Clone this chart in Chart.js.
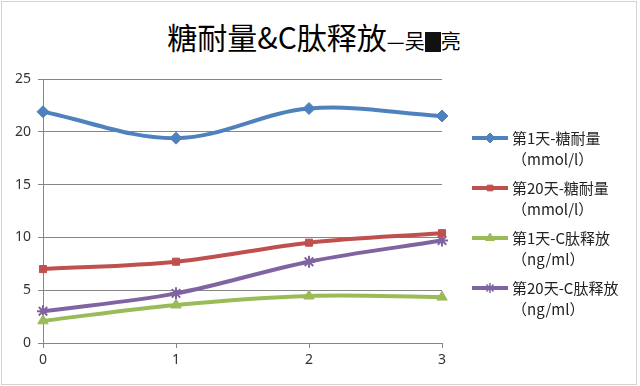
<!DOCTYPE html>
<html>
<head>
<meta charset="utf-8">
<script src="https://cdn.jsdelivr.net/npm/chart.js@4"></script>
<style>
  body { margin: 0; background: #fff; }
  #wrap { position: relative; width: 640px; height: 386px; }
  #frame { position: absolute; left: 1px; top: 1px; width: 634px; height: 382px; border: 1px solid #d4d4d4; }
  #title { position: absolute; left: -6px; top: 14px; width: 640px; text-align: center;
    font-family: "Noto Sans CJK SC", sans-serif; color: #000; white-space: nowrap; }
  #title .big { font-size: 30px; }
  #title .small { font-size: 20px; }
  #title .blk { display: inline-block; width: 16px; height: 20px; background: #111; vertical-align: -3px; }
  canvas { position: absolute; left: 0; top: 0; }
</style>
</head>
<body>
<div id="wrap">
  <div id="frame"></div>
  <div id="title"><span class="big">糖耐量&amp;C肽释放</span><span class="small">—吴<span class="blk"></span>亮</span></div>
  <canvas id="chart" width="640" height="386"></canvas>
</div>
<script>
const days = ["0", "1", "2", "3"];
const names = [
  ["第1天-糖耐量", "（mmol/l）"],
  ["第20天-糖耐量", "（mmol/l）"],
  ["第1天-C肽释放", "（ng/ml）"],
  ["第20天-C肽释放", "（ng/ml）"],
];
const glucoseDay1 = [21.9, 19.4, 22.2, 21.5];
const glucoseDay20 = [7.0, 7.7, 9.5, 10.4];
const cpepDay1 = [2.1, 3.6, 4.45, 4.35];
const cpepDay20 = [3.0, 4.7, 7.7, 9.7];
const yTicks = [0, 5, 10, 15, 20, 25];

const colors = ["#4F81BD", "#C0504D", "#9BBB59", "#8064A2"];
const markers = ["rectRot", "rect", "triangle", "star"];
const sizes = [6, 5, 6, 6];
const series = [glucoseDay1, glucoseDay20, cpepDay1, cpepDay20];

// hand-drawn legend on the right, two lines per entry
const sideLegend = {
  id: "sideLegend",
  afterDraw(c) {
    const ctx = c.ctx;
    ctx.save();
    ctx.font = '15px "Noto Sans CJK SC", sans-serif';
    ctx.textBaseline = "middle";
    names.forEach((nm, i) => {
      const y = 138 + i * 50;
      ctx.strokeStyle = colors[i];
      ctx.lineWidth = 4;
      ctx.beginPath();
      ctx.moveTo(472, y);
      ctx.lineTo(508, y);
      ctx.stroke();
      ctx.fillStyle = colors[i];
      ctx.lineWidth = i === 3 ? 1.5 : 1;
      Chart.helpers.drawPoint(ctx, { pointStyle: markers[i], radius: sizes[i] - 1, borderWidth: ctx.lineWidth }, 490, y);
      ctx.fillStyle = "#222";
      ctx.fillText(nm[0], 512, y);
      ctx.fillText(nm[1], 512, y + 21);
    });
    ctx.restore();
  }
};

new Chart(document.getElementById("chart"), {
  type: "line",
  data: {
    labels: days,
    datasets: series.map((d, i) => ({
      label: names[i].join(""),
      data: d,
      borderColor: colors[i],
      backgroundColor: colors[i],
      pointBackgroundColor: colors[i],
      pointBorderColor: colors[i],
      pointStyle: markers[i],
      pointRadius: sizes[i],
      pointBorderWidth: i === 3 ? 2 : 1,
      borderWidth: 4,
      tension: 0.35,
    })),
  },
  options: {
    responsive: false,
    animation: false,
    layout: { padding: { top: 79, right: 198, left: 0, bottom: 0 } },
    plugins: { legend: { display: false }, tooltip: { enabled: false } },
    scales: {
      x: {
        afterFit(s) { s.height = 43; },
        grid: { drawOnChartArea: false, color: "#868686", tickLength: 5 },
        border: { color: "#868686", width: 1 },
        ticks: { color: "#333", font: { size: 14, family: "Noto Sans" }, padding: 4 },
      },
      y: {
        min: 0, max: 25,
        afterFit(s) { s.width = 43; },
        afterBuildTicks(s) { s.ticks = yTicks.map(v => ({ value: v })); },
        grid: { color: "#868686", tickLength: 5 },
        border: { color: "#868686", width: 1 },
        ticks: { color: "#333", font: { size: 14, family: "Noto Sans" }, padding: 7 },
      },
    },
  },
  plugins: [sideLegend],
});
</script>
</body>
</html>
